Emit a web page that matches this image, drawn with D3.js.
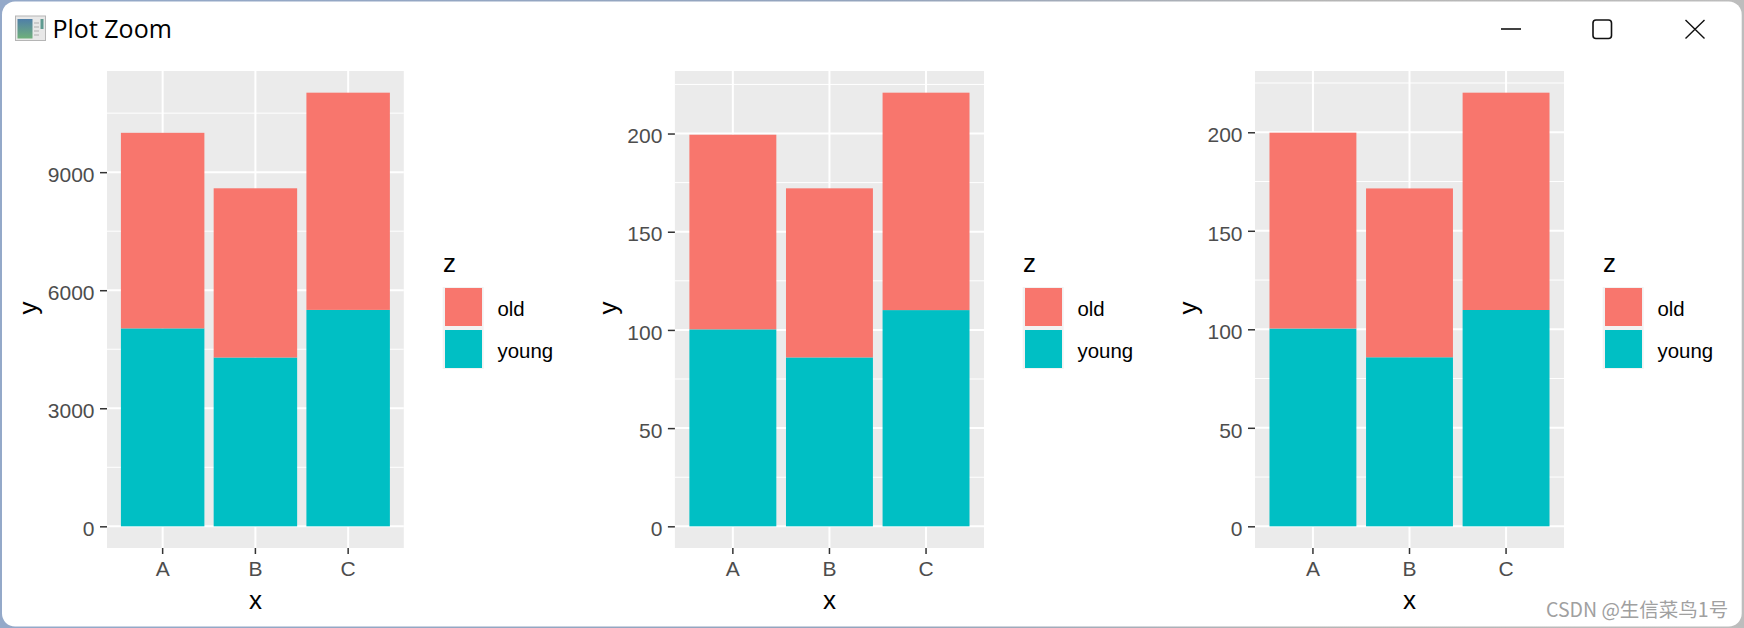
<!DOCTYPE html>
<html>
<head>
<meta charset="utf-8">
<script src="https://cdn.jsdelivr.net/npm/d3@7/dist/d3.min.js"></script>
<style>
html,body{margin:0;padding:0;background:#fff;overflow:hidden}
svg{display:block}
text{font-family:"Liberation Sans",Arial,sans-serif}
</style>
</head>
<body>
<svg id="c" width="1744" height="628"></svg>
<script>
// ---- data ----
const categories = ["A", "B", "C"];
const ageGroups = ["old", "young"];
const colours = ["#F8766D", "#00BFC4"];

const oldLeft = [4970, 4300, 5520];
const youngLeft = [5030, 4290, 5500];
const ticksLeft = [0, 3000, 6000, 9000];
const minorLeft = [1500, 4500, 7500, 10500];

const oldMiddle = [99.1, 86.1, 110.7];
const youngMiddle = [100.3, 86, 110.1];
const ticksMiddle = [0, 50, 100, 150, 200];
const minorMiddle = [25, 75, 125, 175, 225];

const oldRight = [99.4, 85.7, 110.3];
const youngRight = [100.4, 85.8, 109.8];
const ticksRight = [0, 50, 100, 150, 200];
const minorRight = [25, 75, 125, 175, 225];

const panelLayout = [
  {x0:107,    x1:403.8,  yTitle:30.6,  legend:443,  old:oldLeft,   young:youngLeft,   ticks:ticksLeft,   minor:minorLeft},
  {x0:674.9,  x1:984,    yTitle:610.6, legend:1023, old:oldMiddle, young:youngMiddle, ticks:ticksMiddle, minor:minorMiddle},
  {x0:1255,   x1:1564,   yTitle:1190.7,legend:1603, old:oldRight,  young:youngRight,  ticks:ticksRight,  minor:minorRight}
];
const panelTop = 71, panelBottom = 548;

const svg = d3.select("#c");

// ---- window frame ----
const defs = svg.append("defs");
const bg = defs.append("linearGradient").attr("id","bg");
bg.append("stop").attr("offset","0").attr("stop-color","#94a9c9");
bg.append("stop").attr("offset","0.5").attr("stop-color","#94a4bd");
bg.append("stop").attr("offset","0.75").attr("stop-color","#b5b5b5");
bg.append("stop").attr("offset","1").attr("stop-color","#bdbdbd");
const ic = defs.append("linearGradient").attr("id","ic").attr("x1",0).attr("y1",0).attr("x2",0).attr("y2",1);
ic.append("stop").attr("offset","0").attr("stop-color","#4f7fa8");
ic.append("stop").attr("offset","1").attr("stop-color","#6fb07a");

svg.append("rect").attr("width",1744).attr("height",628).attr("fill","url(#bg)");
svg.append("rect").attr("x",2).attr("y",1.5).attr("width",1739.7).attr("height",625).attr("rx",13).attr("fill","#fff");

const icon = svg.append("g");
icon.append("rect").attr("x",15.5).attr("y",16).attr("width",30).attr("height",24.5).attr("fill","#e8e8e8").attr("stroke","#b5b5b5");
icon.append("rect").attr("x",17.5).attr("y",19).attr("width",15).attr("height",19.5).attr("fill","url(#ic)");
[23,27,31,35].forEach(v => icon.append("line").attr("x1",34).attr("x2",39).attr("y1",v).attr("y2",v).attr("stroke","#bbb").attr("stroke-width",1.3));
icon.append("rect").attr("x",40.5).attr("y",19).attr("width",3).attr("height",10).attr("fill","#5f9a90");

svg.append("text").attr("x",52.5).attr("y",37.5).text("Plot Zoom")
  .style("font-family","'Open Sans','Noto Sans',sans-serif").style("font-size","25px").attr("fill","#000");

svg.append("line").attr("x1",1501).attr("x2",1521).attr("y1",29).attr("y2",29).attr("stroke","#111").attr("stroke-width",1.6);
svg.append("rect").attr("x",1593).attr("y",20).attr("width",18.5).attr("height",18.5).attr("rx",3).attr("fill","none").attr("stroke","#111").attr("stroke-width",1.6);
svg.append("path").attr("d","M1685.5,20L1704.5,38.5M1704.5,20L1685.5,38.5").attr("fill","none").attr("stroke","#111").attr("stroke-width",1.4);

svg.append("text").attr("x",1546).attr("y",617).text("CSDN @生信菜鸟1号")
  .style("font-family","'Noto Sans CJK SC',sans-serif").style("font-size","19.5px").attr("fill","#a0a0a0");

// ---- panels ----
panelLayout.forEach(p => {
  const totals = categories.map((c,i) => p.old[i] + p.young[i]);
  const maxV = d3.max(totals);
  const y = d3.scaleLinear().domain([-0.05*maxV, 1.05*maxV]).range([panelBottom, panelTop]);
  const x = d3.scaleBand().domain(categories).range([p.x0, p.x1]).paddingInner(0.1).paddingOuter(0.15);
  const cx = c => x(c) + x.bandwidth()/2;
  const g = svg.append("g");

  g.append("rect").attr("x",p.x0).attr("y",panelTop).attr("width",p.x1-p.x0).attr("height",panelBottom-panelTop).attr("fill","#EBEBEB");

  g.selectAll(".minor").data(p.minor).join("line").attr("class","minor")
    .attr("x1",p.x0).attr("x2",p.x1).attr("y1",d=>y(d)).attr("y2",d=>y(d)).attr("stroke","#fff").attr("stroke-width",1);
  g.selectAll(".majory").data(p.ticks).join("line").attr("class","majory")
    .attr("x1",p.x0).attr("x2",p.x1).attr("y1",d=>y(d)).attr("y2",d=>y(d)).attr("stroke","#fff").attr("stroke-width",2);
  g.selectAll(".majorx").data(categories).join("line").attr("class","majorx")
    .attr("x1",cx).attr("x2",cx).attr("y1",panelTop).attr("y2",panelBottom).attr("stroke","#fff").attr("stroke-width",2);

  // stacked bars: young at the bottom, old on top
  const rows = categories.map((c,i) => ({x:c, old:p.old[i], young:p.young[i]}));
  const stack = d3.stack().keys(["young","old"])(rows);
  stack.forEach(s => {
    const fill = colours[ageGroups.indexOf(s.key)];
    g.selectAll(".bar-"+s.key).data(s).join("rect").attr("class","bar-"+s.key)
      .attr("x",d=>x(d.data.x)).attr("width",x.bandwidth())
      .attr("y",d=>y(d[1])).attr("height",d=>y(d[0])-y(d[1])).attr("fill",fill);
  });

  // axes
  const ay = g.append("g").attr("transform",`translate(${p.x0},0)`)
    .call(d3.axisLeft(y).tickValues(p.ticks).tickFormat(d3.format("d")).tickSize(7).tickPadding(5.5));
  ay.select(".domain").remove();
  const ax = g.append("g").attr("transform",`translate(0,${panelBottom})`)
    .call(d3.axisBottom(x).tickSize(6).tickPadding(7));
  ax.select(".domain").remove();
  [ay,ax].forEach(a => {
    a.selectAll("line").attr("stroke","#333").attr("stroke-width",1.5);
    a.selectAll("text").attr("fill","#4d4d4d").style("font-size","21px").style("font-family","'Liberation Sans',Arial,sans-serif");
  });
  ay.selectAll("text").attr("dy","0.44em");

  // axis titles
  g.append("text").attr("x",(p.x0+p.x1)/2).attr("y",608.5).attr("text-anchor","middle")
    .style("font-size","26px").attr("fill","#000").text("x");
  g.append("text").attr("transform",`translate(${p.yTitle+6.5},308) rotate(-90)`).attr("text-anchor","middle")
    .style("font-size","26px").attr("fill","#000").text("y");

  // legend
  const L = p.legend;
  g.append("text").attr("x",L).attr("y",272.3).style("font-size","26px").attr("fill","#000").text("z");
  g.append("rect").attr("x",L-0.3).attr("y",287).attr("width",41).attr("height",82).attr("fill","#F2F2F2");
  ageGroups.forEach((k,i) => {
    const top = 288 + i*42;
    g.append("rect").attr("x",L+2).attr("y",top).attr("width",37).attr("height",38).attr("fill",colours[i]);
    g.append("text").attr("x",L+54.5).attr("y",top+27.8)
      .style("font-size","20.4px").attr("fill","#000").text(k);
  });
});
</script>
</body>
</html>
